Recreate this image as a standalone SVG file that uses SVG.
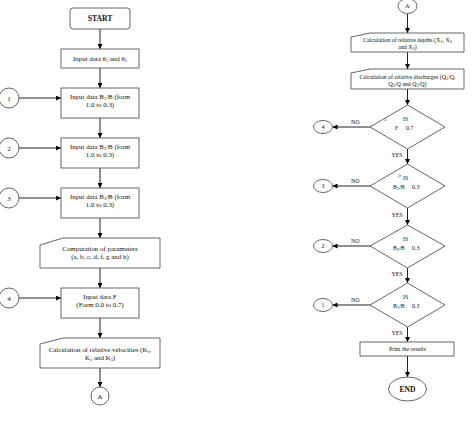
<svg xmlns="http://www.w3.org/2000/svg" width="474" height="434" viewBox="0 0 474 434">
<defs>
<marker id="ah" viewBox="0 0 10 10" refX="10" refY="5" markerWidth="5" markerHeight="5" markerUnits="userSpaceOnUse" orient="auto">
<path d="M0,0 L10,5 L0,10 z" fill="#000"/>
</marker>
<style>
.n{fill:#fff;stroke:#555;stroke-width:0.9}
.t{font-family:"Liberation Serif","Times New Roman",serif;font-size:6.9px;fill:#111;text-anchor:middle}
.r{font-family:"Liberation Serif","Times New Roman",serif;font-size:5.9px;fill:#111;text-anchor:middle}
.d{font-family:"Liberation Serif","Times New Roman",serif;font-size:5.9px;fill:#111}
.b{font-weight:bold;font-size:7.6px}
.s{font-size:4.4px}
.c line,.c path{stroke:#222;stroke-width:1;fill:none}
</style>
</defs>
<rect width="474" height="434" fill="#fff"/>

<g class="c" id="connectors">
<line x1="100" y1="29" x2="100" y2="49" marker-end="url(#ah)"/>
<line x1="100" y1="68" x2="100" y2="88" marker-end="url(#ah)"/>
<line x1="100" y1="118" x2="100" y2="138" marker-end="url(#ah)"/>
<line x1="100" y1="168" x2="100" y2="188" marker-end="url(#ah)"/>
<line x1="100" y1="218" x2="100" y2="238" marker-end="url(#ah)"/>
<line x1="100" y1="268" x2="100" y2="288" marker-end="url(#ah)"/>
<line x1="100" y1="318" x2="100" y2="338" marker-end="url(#ah)"/>
<line x1="100" y1="368" x2="100" y2="387" marker-end="url(#ah)"/>
<line x1="19" y1="98" x2="61" y2="98" marker-end="url(#ah)"/>
<line x1="19" y1="148" x2="61" y2="148" marker-end="url(#ah)"/>
<line x1="19" y1="198" x2="61" y2="198" marker-end="url(#ah)"/>
<line x1="19" y1="298" x2="61" y2="298" marker-end="url(#ah)"/>
<line x1="407.5" y1="14" x2="407.5" y2="33" marker-end="url(#ah)"/>
<line x1="407.5" y1="52" x2="407.5" y2="69" marker-end="url(#ah)"/>
<line x1="407.5" y1="89" x2="407.5" y2="105" marker-end="url(#ah)"/>
<line x1="407.5" y1="149" x2="407.5" y2="164" marker-end="url(#ah)"/>
<line x1="407.5" y1="208" x2="407.5" y2="225" marker-end="url(#ah)"/>
<line x1="407.5" y1="268" x2="407.5" y2="283" marker-end="url(#ah)"/>
<line x1="407.5" y1="327" x2="407.5" y2="342" marker-end="url(#ah)"/>
<line x1="407.5" y1="356" x2="407.5" y2="377" marker-end="url(#ah)"/>
<line x1="370" y1="127" x2="332.5" y2="127" marker-end="url(#ah)"/>
<line x1="370" y1="186" x2="332.5" y2="186" marker-end="url(#ah)"/>
<line x1="370" y1="246" x2="332.5" y2="246" marker-end="url(#ah)"/>
<line x1="370" y1="305" x2="332.5" y2="305" marker-end="url(#ah)"/>
<text class="d" x="351" y="124">NO</text>
<text class="d" x="351" y="183">NO</text>
<text class="d" x="351" y="243">NO</text>
<text class="d" x="351" y="302">NO</text>
<text class="r" x="397" y="157">YES</text>
<text class="r" x="397" y="217">YES</text>
<text class="r" x="397" y="276">YES</text>
<text class="r" x="397" y="335">YES</text>
</g>

<g id="start"><rect class="n" x="70" y="8" width="60" height="21" rx="3"/><text class="t b" x="100" y="21">START</text></g>
<g id="input-theta"><rect class="n" x="61" y="49" width="78" height="19"/><text class="t" x="100" y="61">Input data θ<tspan class="s" dy="1.4">1</tspan><tspan dy="-1.4"> and θ</tspan><tspan class="s" dy="1.4">2</tspan></text></g>
<g id="input-b1"><rect class="n" x="61" y="88" width="78" height="30"/><text class="t" x="100" y="99">Input data B<tspan class="s" dy="1.4">1</tspan><tspan dy="-1.4">/B (form</tspan></text><text class="t" x="100" y="107">1.0 to 0.3)</text></g>
<g id="input-b2"><rect class="n" x="61" y="138" width="78" height="30"/><text class="t" x="100" y="149">Input data B<tspan class="s" dy="1.4">2</tspan><tspan dy="-1.4">/B (form</tspan></text><text class="t" x="100" y="157">1.0 to 0.3)</text></g>
<g id="input-b3"><rect class="n" x="61" y="188" width="78" height="30"/><text class="t" x="100" y="199">Input data B<tspan class="s" dy="1.4">3</tspan><tspan dy="-1.4">/B (form</tspan></text><text class="t" x="100" y="207">1.0 to 0.3)</text></g>
<g id="computation"><path class="n" d="M40,245 L63,238 L160,238 L160,268 L40,268 Z"/><text class="t" x="100" y="251">Computation of parameters</text><text class="t" x="100" y="259">(a, b, c, d, f, g and h)</text></g>
<g id="input-f"><rect class="n" x="61" y="288" width="78" height="30"/><text class="t" x="100" y="299">Input data F</text><text class="t" x="100" y="307">(Form 0.0 to 0.7)</text></g>
<g id="velocities"><path class="n" d="M40,344 L63,338 L160,338 L160,368 L40,368 Z"/><text class="t" x="100" y="352">Calculation of relative velocities (K<tspan class="s" dy="1.4">1</tspan><tspan dy="-1.4">,</tspan></text><text class="t" x="100" y="360">K<tspan class="s" dy="1.4">2</tspan><tspan dy="-1.4"> and K</tspan><tspan class="s" dy="1.4">3</tspan><tspan dy="-1.4">)</tspan></text></g>
<g id="conn-a-left"><circle class="n" cx="100" cy="396" r="9"/><text class="t" x="100" y="398.5">A</text></g>
<g id="conn-1-left"><circle class="n" cx="9" cy="98" r="10"/><text class="t" x="9" y="100.5">1</text></g>
<g id="conn-2-left"><circle class="n" cx="9" cy="148" r="10"/><text class="t" x="9" y="150.5">2</text></g>
<g id="conn-3-left"><circle class="n" cx="9" cy="198" r="10"/><text class="t" x="9" y="200.5">3</text></g>
<g id="conn-4-left"><circle class="n" cx="9" cy="298" r="10"/><text class="t" x="9" y="300.5">4</text></g>

<g id="conn-a-right"><ellipse class="n" cx="407.5" cy="6" rx="9.5" ry="7.5"/><text class="r" x="407.5" y="8">A</text></g>
<g id="depths"><path class="n" d="M351,37 L370,33 L464,33 L464,52 L351,52 Z"/><text class="r" x="407.5" y="42">Calculation of relative depths (X<tspan class="s" dy="1.2">1</tspan><tspan dy="-1.2">, X</tspan><tspan class="s" dy="1.2">2</tspan></text><text class="r" x="407.5" y="49">and X<tspan class="s" dy="1.2">3</tspan><tspan dy="-1.2">)</tspan></text></g>
<g id="discharges"><path class="n" d="M351,73 L370,69 L464,69 L464,89 L351,89 Z"/><text class="r" x="407.5" y="78.5">Calculation of relative discharges (Q<tspan class="s" dy="1.2">1</tspan><tspan dy="-1.2">/Q,</tspan></text><text class="r" x="407.5" y="85.5">Q<tspan class="s" dy="1.2">2</tspan><tspan dy="-1.2">/Q and Q</tspan><tspan class="s" dy="1.2">3</tspan><tspan dy="-1.2">/Q)</tspan></text></g>
<g id="dec-f"><path class="n" d="M407.5,105 L445,127 L407.5,149 L370,127 Z"/><text class="d" x="384" y="121" font-size="6.5">≥</text><text class="d" x="403" y="121">IS</text><text class="d" x="395" y="130">F</text><text class="d" x="406" y="130">0.7</text></g>
<g id="dec-b3"><path class="n" d="M407.5,164 L445,186 L407.5,208 L370,186 Z"/><text class="d" x="398" y="178" font-size="4">&gt;</text><text class="d" x="403" y="180">IS</text><text class="d" x="393" y="189">B<tspan class="s" dy="1.2">3</tspan><tspan dy="-1.2">/B</tspan></text><text class="d" x="412" y="189">0.3</text></g>
<g id="dec-b2"><path class="n" d="M407.5,225 L445,246 L407.5,268 L370,246 Z"/><text class="d" x="403" y="241">IS</text><text class="d" x="393" y="250">B<tspan class="s" dy="1.2">2</tspan><tspan dy="-1.2">/B</tspan></text><text class="d" x="412" y="250">0.3</text></g>
<g id="dec-b1"><path class="n" d="M407.5,283 L445,305 L407.5,327 L370,305 Z"/><text class="d" x="403" y="299">IS</text><text class="d" x="393" y="308">B<tspan class="s" dy="1.2">1</tspan><tspan dy="-1.2">/B</tspan></text><text class="d" x="412" y="308">0.3</text></g>
<g id="conn-4-right"><ellipse class="n" cx="323" cy="127" rx="9.5" ry="6.5"/><text class="r" x="323" y="129">4</text></g>
<g id="conn-3-right"><ellipse class="n" cx="323" cy="186" rx="9.5" ry="6.5"/><text class="r" x="323" y="188">3</text></g>
<g id="conn-2-right"><ellipse class="n" cx="323" cy="246" rx="9.5" ry="6.5"/><text class="r" x="323" y="248">2</text></g>
<g id="conn-1-right"><ellipse class="n" cx="323" cy="305" rx="9.5" ry="6.5"/><text class="r" x="323" y="307">1</text></g>
<g id="print"><rect class="n" x="360" y="342" width="94" height="14"/><text class="r" x="407.5" y="351">Print the results</text></g>
<g id="end"><ellipse class="n" cx="407.5" cy="389" rx="19" ry="12"/><text class="r b" x="407.5" y="391.5">END</text></g>
</svg>
